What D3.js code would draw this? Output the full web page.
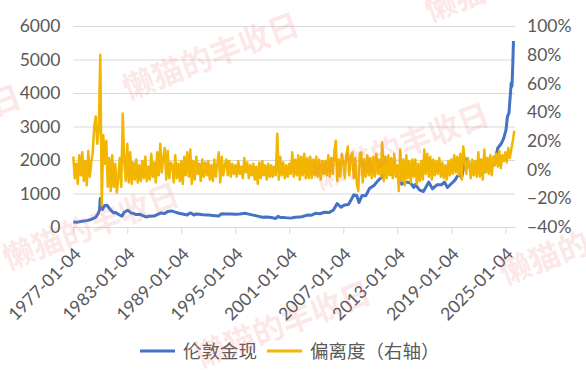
<!DOCTYPE html>
<html>
<head>
<meta charset="utf-8">
<script src="https://cdn.jsdelivr.net/npm/d3@7"></script>
<style>
    body { margin: 0; background: #fff; }
    svg { display: block; }
</style>
</head>
<body>
<svg id="chart" width="586" height="370"></svg>
<script>
// Series names (legend)
var seriesNames = ["伦敦金现", "偏离度（右轴）"];

// London gold spot, [month, USD/oz]
var goldPrice = [
    ["1977-01",150],["1977-07",145],["1978-01",170],["1978-07",190],["1979-01",225],["1979-07",290],
    ["1979-10",390],["1979-12",500],["1980-01",850],["1980-02",650],["1980-04",520],["1980-07",640],
    ["1980-10",650],["1981-01",560],["1981-04",480],["1981-07",420],["1981-10",430],["1982-01",380],
    ["1982-06",320],["1982-09",440],["1983-02",500],["1983-06",420],["1983-09",410],["1984-01",370],
    ["1984-06",380],["1984-10",340],["1985-02",300],["1985-06",320],["1985-12",325],["1986-03",345],
    ["1986-10",420],["1987-03",400],["1987-07",460],["1987-12",480],["1988-04",450],["1988-10",410],
    ["1989-03",390],["1989-09",360],["1989-12",410],["1990-02",415],["1990-06",355],["1990-09",390],
    ["1991-01",380],["1991-06",365],["1992-01",355],["1992-07",345],["1993-03",330],["1993-07",395],
    ["1994-01",385],["1994-07",385],["1995-01",380],["1995-07",385],["1996-02",410],["1996-07",385],
    ["1997-01",355],["1997-07",325],["1998-01",290],["1998-07",295],["1999-01",285],["1999-07",255],
    ["1999-10",320],["2000-01",285],["2000-07",280],["2001-03",265],["2001-09",290],["2002-03",295],
    ["2002-07",315],["2003-01",355],["2003-06",350],["2003-12",410],["2004-06",395],["2004-12",440],
    ["2005-06",430],["2005-12",510],["2006-05",700],["2006-10",590],["2007-03",660],["2007-08",670],
    ["2007-12",830],["2008-03",960],["2008-07",940],["2008-10",730],["2009-02",940],["2009-07",930],
    ["2009-12",1150],["2010-06",1240],["2010-12",1400],["2011-05",1500],["2011-08",1800],["2011-12",1650],
    ["2012-05",1580],["2012-10",1750],["2013-01",1670],["2013-04",1400],["2013-07",1280],["2013-10",1320],
    ["2014-03",1340],["2014-07",1310],["2014-11",1180],["2015-01",1270],["2015-07",1100],["2015-12",1060],
    ["2016-07",1340],["2016-12",1140],["2017-06",1260],["2017-12",1260],["2018-04",1340],["2018-08",1180],
    ["2019-01",1290],["2019-06",1400],["2019-09",1510],["2020-01",1560],["2020-03",1480],["2020-05",1720],
    ["2020-08",2040],["2020-11",1820],["2021-01",1900],["2021-03",1700],["2021-06",1880],["2021-09",1760],
    ["2022-03",2000],["2022-09",1650],["2023-02",1850],["2023-05",2000],["2023-10",1850],["2023-12",2050],
    ["2024-03",2350],["2024-08",2500],["2024-11",2650],["2025-02",2900],["2025-04",3300],["2025-06",3400],
    ["2025-07",3700],["2025-08",4000],["2025-09",4300],["2025-10",4200],["2025-11",4800],["2025-12",5550]
];

// Deviation in %, one reading every two months starting 1977-01-04
var deviationStart = "1977-01-04";
var deviation = [
    9, -6, 4, -10, 10, -4,      // 1977
    12, -8, 6, -11, 13, -5,     // 1978
    5, 12, 30, 37, 18, 28,      // 1979
    80, -25, 24, 4, 20, -12,    // 1980
    8, -15, 10, -12, 4, -16,    // 1981
    -6, 8, -12, 39, 6, -8,      // 1982
    18, -9, 12, -10, 5, -7,     // 1983
    7, -9, 3, -8, 6, -6,        // 1984
    9, -8, 2, -7, 11, -5,       // 1985
    5, -9, 12, -4, 18, -2,      // 1986
    8, 15, -7, 13, -6, 5,       // 1987
    3, -9, 10, -6, 4, -8,       // 1988
    6, -10, 9, -4, 12, -5,      // 1989
    14, -10, 6, -7, 9, -3,      // 1990
    4, -8, 7, -5, 5, -4,        // 1991
    6, -7, 3, -8, 7, -5,        // 1992
    4, 12, -9, 9, -4, 3,        // 1993
    7, -4, 6, -5, 4, -3,        // 1994
    3, -5, 6, -3, 2, -6,        // 1995
    8, -2, 5, -6, 3, -4,        // 1996
    4, -7, 2, -10, 5, -6,       // 1997
    6, -4, 3, -7, 4, -5,        // 1998
    3, -5, 2, -4, 25, -7,       // 1999
    9, -4, 5, -6, 3, -5,        // 2000
    4, -3, 12, -5, 7, -4,       // 2001
    10, -7, 9, -4, 11, -6,      // 2002
    8, -6, 9, -6, 7, -4,        // 2003
    9, -5, 7, -7, 6, -3,        // 2004
    6, -4, 10, -5, 8, -3,       // 2005
    12, 20, -8, 7, -5, 11,      // 2006
    5, -6, 9, 16, -4, 9,        // 2007
    12, -6, 8, -10, -15, 11,    // 2008
    12, -9, 7, -5, 10, -4,      // 2009
    8, -6, 9, -5, 11, -3,       // 2010
    7, -5, 19, -8, 9, -6,       // 2011
    10, -4, 8, -6, 11, -5,      // 2012
    3, -15, 14, -8, 7, -11,     // 2013
    10, -6, 6, -9, 7, -5,       // 2014
    7, -10, 4, -8, 6, -7,       // 2015
    14, -3, 11, -5, 9, -7,      // 2016
    7, -4, 6, -3, 8, -5,        // 2017
    5, -6, 3, -7, 6, -4,        // 2018
    7, -3, 10, -2, 9, -4,       // 2019
    11, -7, 16, 6, -3, 8,       // 2020
    4, -6, 7, -4, 6, -5,        // 2021
    12, -5, 7, -7, 14, -2,      // 2022
    8, -3, 10, -4, 9, 3,        // 2023
    11, 2, 13, 1, 10, 6,        // 2024
    12, 5, 15, 8, 14, 20,       // 2025
    27                          // 2026
];

// Axis ticks
var leftTicks = [0, 1000, 2000, 3000, 4000, 5000, 6000];
var rightTicks = [-0.4, -0.2, 0, 0.2, 0.4, 0.6, 0.8, 1.0];
var dateTicks = ["1977-01-04", "1983-01-04", "1989-01-04", "1995-01-04", "2001-01-04",
                 "2007-01-04", "2013-01-04", "2019-01-04", "2025-01-04"];
var dateEnd = "2026-02-01";
var watermarkText = "懒猫的丰收日";

var parseDay = d3.timeParse("%Y-%m-%d");
var parseMonth = d3.timeParse("%Y-%m");

// Chart setup
var svg = d3.select("#chart"),
    margin = {top: 26, left: 73.3, bottom: 143, right: 71},
    width = +svg.attr("width") - margin.left - margin.right,
    height = +svg.attr("height") - margin.top - margin.bottom;

var font = "Lato, 'Liberation Sans', sans-serif";
var cjkFont = "'Noto Sans CJK SC', sans-serif";
var textColor = "#595959";
var gridColor = "#D9D9D9";

// Scales
var x = d3.scaleTime()
    .domain([parseDay(dateTicks[0]), parseDay(dateEnd)])
    .range([margin.left, margin.left + width]);

var yLeft = d3.scaleLinear()
    .domain([0, 6000])
    .range([margin.top + height, margin.top]);

var yRight = d3.scaleLinear()
    .domain([-0.4, 1.0])
    .range([margin.top + height, margin.top]);

// Left axis with gridlines
var leftAxis = svg.append("g")
    .attr("transform", `translate(${margin.left},0)`)
    .call(d3.axisLeft(yLeft).tickValues(leftTicks).tickSize(-width).tickPadding(13)
        .tickFormat(d3.format("d")));
leftAxis.select(".domain").remove();
leftAxis.selectAll("line").attr("stroke", gridColor);
leftAxis.selectAll("text")
    .attr("fill", textColor)
    .style("font-family", font)
    .style("font-size", "17.5px");

// Right axis (percent)
var rightAxis = svg.append("g")
    .attr("transform", `translate(${margin.left + width},0)`)
    .call(d3.axisRight(yRight).tickValues(rightTicks).tickSize(0).tickPadding(12)
        .tickFormat(d3.format(".0%")));
rightAxis.select(".domain").remove();
rightAxis.selectAll("text")
    .attr("fill", textColor)
    .style("font-family", font)
    .style("font-size", "17.5px");

// Bottom axis, rotated date labels
var bottomAxis = svg.append("g")
    .attr("transform", `translate(0,${margin.top + height})`)
    .call(d3.axisBottom(x).tickValues(dateTicks.map(parseDay)).tickSize(7).tickSizeOuter(0)
        .tickFormat(d3.timeFormat("%Y-%m-%d")));
bottomAxis.select(".domain").attr("stroke", gridColor);
bottomAxis.selectAll("line").attr("stroke", gridColor);
bottomAxis.selectAll("text")
    .attr("x", 0)
    .attr("y", 0)
    .attr("dy", 0)
    .attr("transform", "translate(8.5,28) rotate(-45)")
    .attr("text-anchor", "end")
    .attr("fill", textColor)
    .style("font-family", font)
    .style("font-size", "17.5px");

// Gold line (left axis)
var goldLine = d3.line()
    .x(d => x(parseMonth(d[0])))
    .y(d => yLeft(d[1]));

svg.append("path")
    .datum(goldPrice)
    .attr("fill", "none")
    .attr("stroke", "#4472C4")
    .attr("stroke-width", 3)
    .attr("stroke-linejoin", "round")
    .attr("d", goldLine);

// Deviation line (right axis)
var devStart = parseDay(deviationStart);
var devLine = d3.line()
    .x((d, i) => x(d3.timeMonth.offset(devStart, i * 2)))
    .y(d => yRight(d / 100));

svg.append("path")
    .datum(deviation)
    .attr("fill", "none")
    .attr("stroke", "#F2B600")
    .attr("stroke-width", 2.5)
    .attr("stroke-linejoin", "round")
    .attr("d", devLine);

// Legend
var legendColors = ["#4472C4", "#F2B600"];
var legendX = [140, 267];
var legend = svg.selectAll(".legend")
    .data(seriesNames)
    .enter().append("g")
    .attr("class", "legend")
    .attr("transform", (d, i) => `translate(${legendX[i]},351)`);

legend.append("line")
    .attr("x1", 0)
    .attr("x2", 35)
    .attr("stroke", (d, i) => legendColors[i])
    .attr("stroke-width", 3);

legend.append("text")
    .attr("x", 43)
    .attr("dy", "0.36em")
    .attr("fill", textColor)
    .style("font-family", cjkFont)
    .style("font-size", "18.5px")
    .text(d => d);

// Watermarks (faint, partly off the edges as in the source image)
var marks = [[128, 100], [-150, 172], [8, 270], [318, 190], [200, 368], [430, 22], [505, 285]];
svg.selectAll(".wm")
    .data(marks)
    .enter().append("text")
    .attr("class", "wm")
    .attr("transform", d => `translate(${d[0]},${d[1]}) rotate(-21)`)
    .attr("fill", "rgba(240,110,110,0.18)")
    .style("font-family", cjkFont)
    .style("font-weight", 700)
    .style("font-size", "31px")
    .text(watermarkText);
</script>
</body>
</html>
